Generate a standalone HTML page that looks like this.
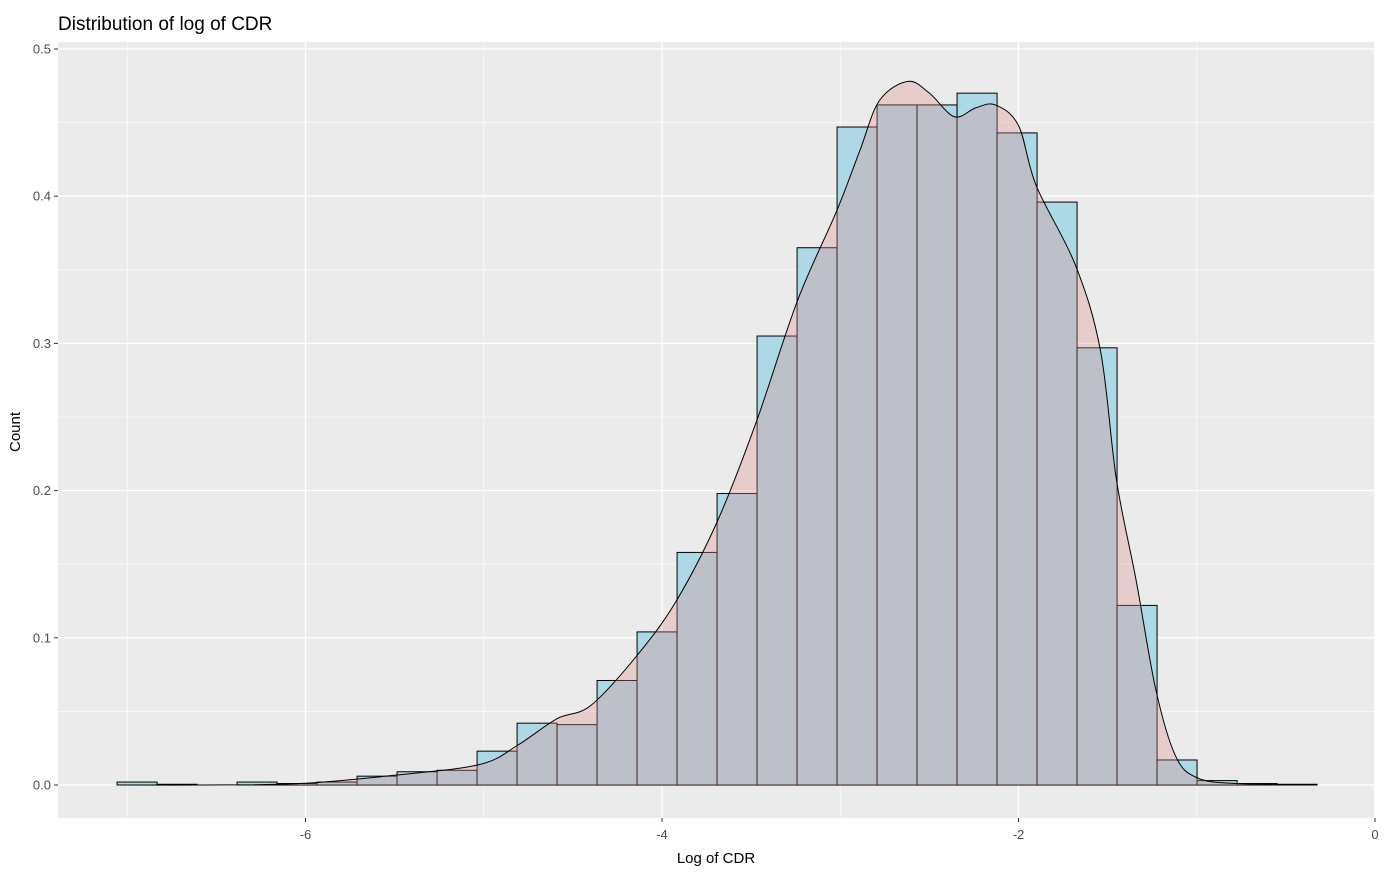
<!DOCTYPE html>
<html><head><meta charset="utf-8"><style>
body{margin:0;background:#fff;font-family:"Liberation Sans",Arial,sans-serif;}
</style></head><body>
<svg id="chart" width="1385" height="873" xmlns="http://www.w3.org/2000/svg" font-family="Liberation Sans, Arial, sans-serif"></svg>
<script>
const binStart = -7.057;
const binWidth = 0.2244;
const counts = [0.002,0.0005,0,0.002,0.001,0.002,0.006,0.009,0.010,0.023,0.042,0.041,0.071,0.104,0.158,0.198,0.305,0.365,0.447,0.462,0.462,0.470,0.443,0.396,0.297,0.122,0.017,0.003,0.001,0.0005];
const densX = [-7.06,-6.59,-6.03,-5.47,-5.02,-4.81,-4.59,-4.40,-4.14,-3.92,-3.69,-3.47,-3.24,-3.02,-2.89,-2.78,-2.62,-2.50,-2.36,-2.24,-2.13,-2.00,-1.90,-1.68,-1.54,-1.45,-1.34,-1.23,-1.12,-1.00,-0.78,-0.33];
const densY = [0,0,0.001,0.007,0.014,0.027,0.045,0.054,0.088,0.125,0.179,0.247,0.329,0.390,0.431,0.465,0.478,0.470,0.454,0.460,0.462,0.448,0.407,0.353,0.295,0.207,0.139,0.065,0.020,0.005,0.001,0];
const xTicks = [-6,-4,-2,0];
const yTicks = [0,0.1,0.2,0.3,0.4,0.5];

const svg = document.getElementById('chart');
const NS = 'http://www.w3.org/2000/svg';
const L=58,R=1375,T=42,B=818;
const sx = v => 1375 + 178.25*v;
const sy = v => 785 - 1472*v;
function mk(tag, attrs){const e=document.createElementNS(NS,tag);for(const k in attrs)e.setAttribute(k,attrs[k]);svg.appendChild(e);return e;}

let e = mk('rect',{x:L,y:T,width:R-L,height:B-T,fill:'#ebebeb'});


for(let v=-7; v<=-1; v+=2){ e=mk('line',{x1:sx(v),x2:sx(v),y1:T,y2:B,stroke:'#fff','stroke-width':0.6});

}
for(let v=0.05; v<0.55; v+=0.1){ e=mk('line',{x1:L,x2:R,y1:sy(v),y2:sy(v),stroke:'#fff','stroke-width':0.6});

}
xTicks.forEach(v=>{ e=mk('line',{x1:sx(v),x2:sx(v),y1:T,y2:B,stroke:'#fff','stroke-width':1.3});


e=mk('line',{x1:sx(v),x2:sx(v),y1:B,y2:B+4,stroke:'#333'});


e=mk('text',{x:sx(v),y:B+21,'text-anchor':'middle','font-size':13,fill:'#4d4d4d'}); e.textContent=v;

});
yTicks.forEach(v=>{ e=mk('line',{x1:L,x2:R,y1:sy(v),y2:sy(v),stroke:'#fff','stroke-width':1.3});


e=mk('line',{x1:L-4,x2:L,y1:sy(v),y2:sy(v),stroke:'#333'});


e=mk('text',{x:L-7,y:sy(v)+4.5,'text-anchor':'end','font-size':13,fill:'#4d4d4d'}); e.textContent=v.toFixed(1);

});
counts.forEach((c,i)=>{const x0=sx(binStart+i*binWidth),x1=sx(binStart+(i+1)*binWidth);
e=mk('rect',{x:x0,y:sy(c),width:x1-x0,height:sy(0)-sy(c),fill:'#add8e6',stroke:'#000','stroke-width':1});

});
// smooth density via Catmull-Rom
const P = densX.map((x,i)=>[sx(x),sy(densY[i])]);
let curve = 'M'+P[0][0]+','+P[0][1];
for(let i=0;i<P.length-1;i++){
  const p0=P[Math.max(0,i-1)],p1=P[i],p2=P[i+1],p3=P[Math.min(P.length-1,i+2)];
  const c1=[p1[0]+(p2[0]-p0[0])/6,p1[1]+(p2[1]-p0[1])/6];
  const c2=[p2[0]-(p3[0]-p1[0])/6,p2[1]-(p3[1]-p1[1])/6];
  curve+=' C'+c1[0]+','+c1[1]+' '+c2[0]+','+c2[1]+' '+p2[0]+','+p2[1];
}
e=mk('path',{d:curve+' L'+P[P.length-1][0]+','+sy(0)+' L'+P[0][0]+','+sy(0)+' Z',fill:'rgba(225,141,141,0.32)',stroke:'none'});


e=mk('path',{d:curve,fill:'none',stroke:'#000','stroke-width':1});


e=mk('text',{x:58,y:30,'font-size':19,fill:'#000'});e.textContent='Distribution of log of CDR';


e=mk('text',{x:716,y:863,'text-anchor':'middle','font-size':15,fill:'#000'});e.textContent='Log of CDR';


e=mk('text',{x:20,y:432,'text-anchor':'middle','font-size':15,fill:'#000',transform:'rotate(-90 20 432)'});e.textContent='Count';


</script>
</body></html>
